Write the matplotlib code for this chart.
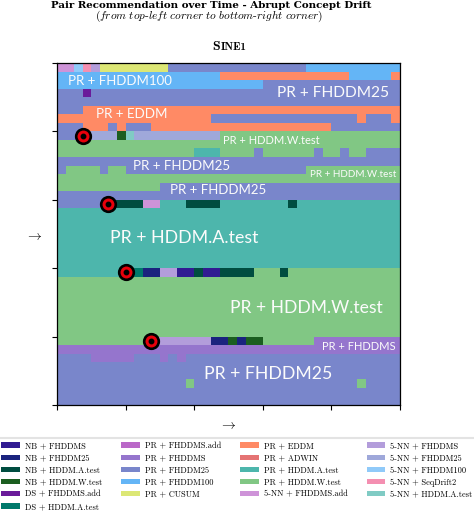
import numpy as np
import matplotlib
matplotlib.use("Agg")
import matplotlib.pyplot as plt
from matplotlib.colors import ListedColormap
from matplotlib.patches import Patch
from matplotlib.offsetbox import TextArea, HPacker, AnnotationBbox

plt.rcParams['mathtext.fontset'] = 'cm'
plt.rcParams['axes.formatter.use_mathtext'] = True

# ---- categories (legend order) ----
categories = [
    "NB + FHDDMS", "NB + FHDDM25", "NB + HDDM.A.test", "NB + HDDM.W.test",
    "DS + FHDDMS.add", "DS + HDDM.A.test",
    "PR + FHDDMS.add", "PR + FHDDMS", "PR + FHDDM25", "PR + FHDDM100", "PR + CUSUM",
    "PR + EDDM", "PR + ADWIN", "PR + HDDM.A.test", "PR + HDDM.W.test",
    "5-NN + FHDDMS.add", "5-NN + FHDDMS", "5-NN + FHDDM25", "5-NN + FHDDM100",
    "5-NN + SeqDrift2", "5-NN + HDDM.A.test",
]
codes = ["nS", "n25", "nA", "nW", "dSa", "dA",
         "pSa", "pS", "p25", "p100", "pC", "pE", "pAd", "pA", "pW",
         "kSa", "kS", "k25", "k100", "kSq", "kA"]
colors = ["#311b92", "#1a237e", "#004d40", "#1b5e20", "#6a1b9a", "#00796b",
          "#ba68c8", "#9575cd", "#7986cb", "#64b5f6", "#dce775",
          "#ff8a65", "#e57373", "#4db6ac", "#81c784",
          "#ce93d8", "#b39ddb", "#9fa8da", "#90caf9", "#f48fb1", "#80cbc4"]

# ---- recommended pair over time, row by row (run-length: code, count) ----
rows = [
    [("kSa", 2), ("k100", 1), ("kSq", 1), ("kS", 1), ("pC", 8), ("p25", 16), ("p100", 11)],
    [("p100", 19), ("pE", 15), ("p100", 5), ("pE", 1)],
    [("p100", 24), ("p25", 16)],
    [("p25", 3), ("dSa", 1), ("p25", 36)],
    [("p25", 40)],
    [("p25", 3), ("pE", 37)],
    [("pE", 18), ("p25", 17), ("pE", 1), ("p25", 3), ("pE", 1)],
    [("p25", 3), ("pE", 3), ("p25", 1), ("pE", 1), ("p25", 3), ("pE", 21), ("p25", 8)],
    [("p25", 3), ("k25", 4), ("nW", 1), ("kA", 1), ("k25", 10), ("pW", 21)],
    [("pW", 40)],
    [("pW", 16), ("pA", 3), ("pW", 4), ("p25", 1), ("pW", 6), ("p25", 1), ("pW", 2),
     ("p25", 1), ("pW", 2), ("p25", 4)],
    [("p25", 40)],
    [("p25", 1), ("pW", 4), ("p25", 1), ("pW", 2), ("p25", 21), ("pW", 11)],
    [("pW", 40)],
    [("pW", 12), ("p25", 28)],
    [("p25", 40)],
    [("p25", 6), ("nA", 4), ("kSa", 2), ("pA", 3), ("nA", 4), ("pA", 8), ("nA", 1), ("pA", 12)],
    [("pA", 40)],
    [("pA", 40)],
    [("pA", 40)],
    [("pA", 40)],
    [("pA", 40)],
    [("pA", 40)],
    [("pA", 40)],
    [("pA", 8), ("dA", 2), ("n25", 2), ("kS", 2), ("nS", 2), ("nA", 1), ("nS", 2),
     ("nA", 4), ("pW", 3), ("nA", 1), ("pW", 13)],
    [("pW", 40)],
    [("pW", 40)],
    [("pW", 40)],
    [("pW", 40)],
    [("pW", 40)],
    [("pW", 40)],
    [("pW", 40)],
    [("pW", 11), ("kS", 7), ("n25", 2), ("nW", 1), ("n25", 1), ("nW", 2), ("pW", 6), ("pS", 10)],
    [("pS", 40)],
    [("p25", 4), ("pS", 5), ("p25", 3), ("pS", 1), ("p25", 1), ("pS", 1), ("p25", 25)],
    [("p25", 40)],
    [("p25", 40)],
    [("p25", 15), ("pW", 1), ("p25", 19), ("pW", 1), ("p25", 4)],
    [("p25", 40)],
    [("p25", 40)],
]

# ---- concept drift points ----
drift_cols = [3, 6, 8, 11]
drift_rows = [8, 16, 24, 32]

# ---- in-plot annotations (text, x, y, fontsize) ----
annotations = [
    ("PR + FHDDM100", 1.25, 2.05, 9.5),
    ("PR + FHDDM25", 25.6, 3.5, 11.2),
    ("PR + EDDM", 4.6, 5.95, 9.6),
    ("PR + HDDM.W.test", 19.4, 9.05, 8.0),
    ("PR + FHDDM25", 8.9, 12.1, 9.6),
    ("PR + HDDM.W.test", 29.5, 13.0, 7.1),
    ("PR + FHDDM25", 13.2, 14.9, 9.5),
    ("PR + HDDM.A.test", 6.2, 20.5, 12.8),
    ("PR + HDDM.W.test", 20.2, 28.7, 12.6),
    ("PR + FHDDMS", 30.9, 33.1, 8.0),
    ("PR + FHDDM25", 17.1, 36.35, 12.7),
]

n = len(rows)
code_idx = {c: i for i, c in enumerate(codes)}
grid = np.array([[code_idx[c] for c, k in row for _ in range(k)] for row in rows])

W, H = 474, 513
fig = plt.figure(figsize=(W / 100, H / 100), dpi=100)
ax = fig.add_axes([57 / W, 1 - 405 / H, 343 / W, 342 / H])

cmap = ListedColormap(colors)
ax.imshow(grid, cmap=cmap, vmin=-0.5, vmax=len(colors) - 0.5,
          extent=(0, n, n, 0), interpolation='nearest', aspect='auto')

dy = np.array(drift_rows) + 0.5
ax.plot(drift_cols, dy, 'o', ms=10.5, mfc='#e8000b', mec='black', mew=1.9, zorder=5)
ax.plot(drift_cols, dy, 'o', ms=3.2, mfc='black', mec='black', zorder=6)

for txt, x, y, s in annotations:
    ax.text(x, y, txt, color='#fbfbfb', fontsize=s, family='Lato',
            ha='left', va='center', zorder=7)

ax.set_xlim(0, n)
ax.set_ylim(n, 0)
ax.set_xticks(np.arange(0, n + 1, 8))
ax.set_yticks(np.arange(0, n + 1, 8))
ax.set_xticklabels([])
ax.set_yticklabels([])
ax.tick_params(length=3.5, width=0.8)
for sp in ax.spines.values():
    sp.set_linewidth(0.9)

fig.text(228 / W, 1 - 425 / H, r'$\rightarrow$', fontsize=10, ha='center', va='center')
fig.text(34 / W, 1 - 236 / H, r'$\rightarrow$', fontsize=10, ha='center', va='center')

fig.text(211.5 / W, 1 - 7.6 / H, 'Pair Recommendation over Time - Abrupt Concept Drift',
         family='DejaVu Serif', fontweight='bold', fontsize=7.4, ha='center', va='baseline')
fig.text(209 / W, 1 - 18.7 / H,
         r'($\mathit{from\ top}$-$\mathit{left\ corner\ to\ bottom}$-$\mathit{right\ corner}$)',
         family='cmr10', fontsize=8.2, ha='center', va='baseline')

box = HPacker(children=[TextArea("S", textprops=dict(family='cmb10', fontsize=10)),
                        TextArea("INE1", textprops=dict(family='cmb10', fontsize=8))],
              align='baseline', pad=0, sep=0.5)
ab = AnnotationBbox(box, (229 / W, 1 - 47 / H), xycoords='figure fraction',
                    frameon=False, box_alignment=(0.5, 0.5))
fig.add_artist(ab)

handles = [Patch(facecolor=c, edgecolor='none', label=l) for c, l in zip(colors, categories)]
leg = fig.legend(handles=handles, loc='upper left',
                 bbox_to_anchor=(-0.006, 1 - 437.5 / H, 1.012, 0.0),
                 mode='expand', ncol=4, prop={'family': 'cmr10', 'size': 6},
                 frameon=True, edgecolor='#dddddd', fancybox=False,
                 handlelength=2.2, handleheight=0.6, handletextpad=0.6,
                 labelspacing=0.45, borderpad=0.5, borderaxespad=0)
leg.get_frame().set_linewidth(1.5)

fig.savefig('out.png', dpi=100)
